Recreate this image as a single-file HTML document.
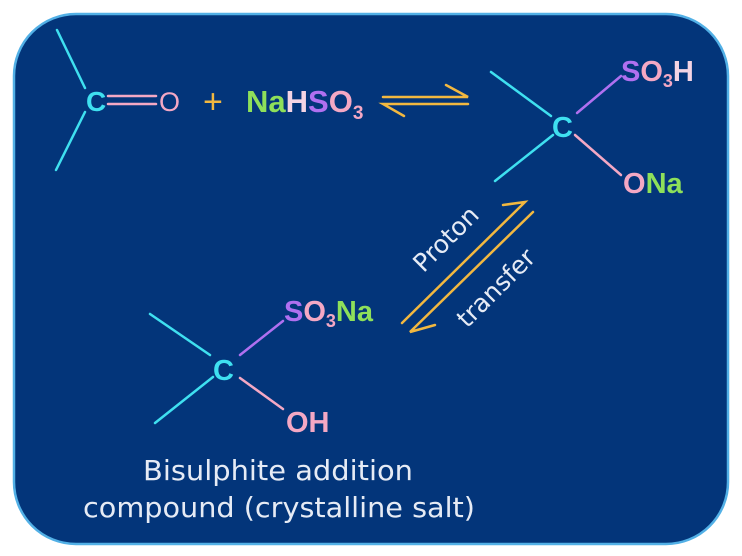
<!DOCTYPE html>
<html><head><meta charset="utf-8"><style>
html,body{margin:0;padding:0;background:#fff;}
svg{display:block;}
.b{font-family:"Liberation Sans Narrow","Liberation Sans",sans-serif;font-weight:bold;}
.t{font-family:"DejaVu Sans","Liberation Sans",sans-serif;font-weight:normal;fill:#e6ebf5;}
</style></head><body>
<svg width="742" height="556" viewBox="0 0 742 556" xmlns="http://www.w3.org/2000/svg">
<rect x="14" y="14" width="714" height="530" rx="62" ry="62" fill="#03357a" stroke="#52b0e6" stroke-width="2.5"/>
<g stroke-linecap="round" fill="none" stroke-width="2.5">
<line x1="57" y1="30" x2="85" y2="88" stroke="#3fe0f0"/>
<line x1="85" y1="112" x2="56" y2="170" stroke="#3fe0f0"/>
<line x1="108" y1="96" x2="156" y2="96" stroke="#f4a8c4"/>
<line x1="108" y1="104" x2="156" y2="104" stroke="#f4a8c4"/>
<polyline points="383,97 468,97 446,85" stroke="#f2b840"/>
<polyline points="468,104 383,104 404,116" stroke="#f2b840"/>
<line x1="491" y1="72" x2="551" y2="116" stroke="#3fe0f0"/>
<line x1="553" y1="135" x2="495" y2="181" stroke="#3fe0f0"/>
<line x1="577" y1="113" x2="621" y2="76" stroke="#b070f0"/>
<line x1="575" y1="135" x2="621" y2="175" stroke="#f4a8c4"/>
<polyline points="402,323 525,202 503,205" stroke="#f2b840"/>
<polyline points="533,212 410,332 435,325" stroke="#f2b840"/>
<line x1="150" y1="314" x2="210" y2="355" stroke="#3fe0f0"/>
<line x1="213" y1="377" x2="155" y2="423" stroke="#3fe0f0"/>
<line x1="240" y1="355" x2="283" y2="321" stroke="#b070f0"/>
<line x1="240" y1="378" x2="283" y2="409" stroke="#f4a8c4"/>
</g>
<g class="b">
<text x="86" y="111" fill="#3fe0f0" font-size="28">C</text>
<text x="159" y="111" fill="#f4a8c4" font-size="27" font-weight="normal">O</text>
<text x="203" y="113" fill="#f2b840" font-size="34" font-weight="normal">+</text>
<text x="246" y="112" font-size="31"><tspan fill="#8ee05a">Na</tspan><tspan fill="#f4d4e4">H</tspan><tspan fill="#b070f0">S</tspan><tspan fill="#f4a8c4">O</tspan><tspan fill="#f4a8c4" font-size="19" dy="7">3</tspan></text>
<text x="552" y="137" fill="#3fe0f0" font-size="29">C</text>
<text x="621" y="81" font-size="29"><tspan fill="#b070f0">S</tspan><tspan fill="#f4a8c4">O</tspan><tspan fill="#f4a8c4" font-size="18" dy="6">3</tspan><tspan fill="#f4d4e4" dy="-6">H</tspan></text>
<text x="623" y="193" font-size="29"><tspan fill="#f4a8c4">O</tspan><tspan fill="#8ee05a">Na</tspan></text>
<text x="213" y="380" fill="#3fe0f0" font-size="29">C</text>
<text x="284" y="321" font-size="29"><tspan fill="#b070f0">S</tspan><tspan fill="#f4a8c4">O</tspan><tspan fill="#f4a8c4" font-size="18" dy="6">3</tspan><tspan fill="#8ee05a" dy="-6">Na</tspan></text>
<text x="286" y="432" font-size="29" fill="#f4a8c4">OH</text>
</g>
<text class="t" font-size="25" text-anchor="middle" transform="translate(452,245) rotate(-45)">Proton</text>
<text class="t" font-size="25" text-anchor="middle" transform="translate(502,294) rotate(-45)">transfer</text>
<text class="t" font-size="28" text-anchor="middle" x="278" y="480" textLength="270" lengthAdjust="spacingAndGlyphs">Bisulphite addition</text>
<text class="t" font-size="28" text-anchor="middle" x="279" y="517" textLength="392" lengthAdjust="spacingAndGlyphs">compound (crystalline salt)</text>
</svg>
</body></html>
